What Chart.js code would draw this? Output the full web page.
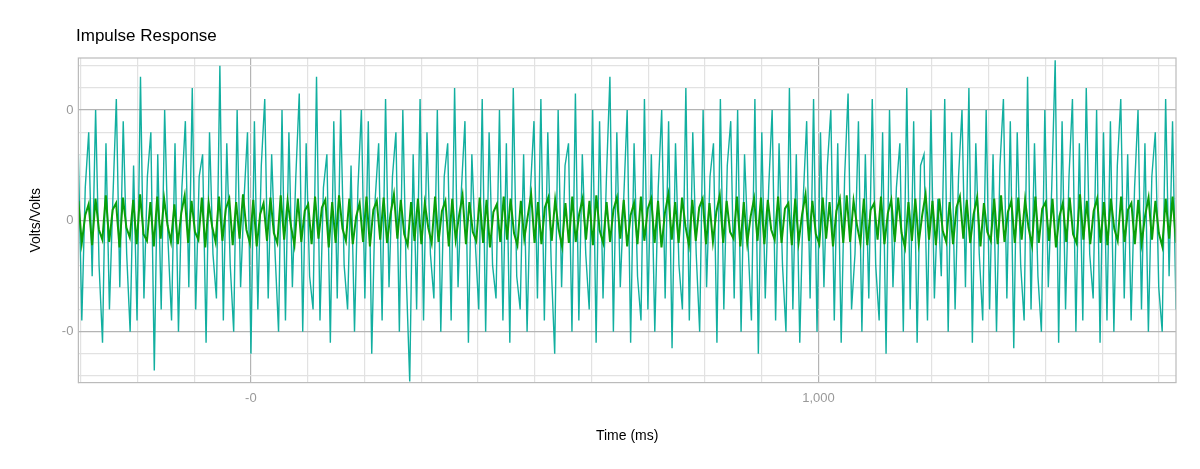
<!DOCTYPE html>
<html>
<head>
<meta charset="utf-8">
<script src="https://cdn.jsdelivr.net/npm/chart.js@4"></script>
<style>
  body { margin: 0; background: #fff; }
  #wrap { width: 1200px; height: 469px; position: relative; }
  #title { position: absolute; left: 76px; top: 26px; font: 17px Helvetica, Arial, sans-serif; color: #000; }
</style>
</head>
<body>
<div id="wrap"><div id="title">Impulse Response</div><canvas id="chart"></canvas></div>
<script>
// sample grid (ms)
const timeStart = -304;
const timeEnd = 1630;

// wide trace
const teal = [
  0.6, -0.9, 0.3, 0.8, -0.5, 1.0, -0.4, -1.1, 0.7, -0.8, 0.2, 1.1, -0.6, 0.9, -0.3, -1.0, 0.5, -0.9, 1.3, -0.7, 0.4, 0.8, -1.35, 0.6, -0.8,
  1.0, -0.2, -0.9, 0.7, -1.0, 0.3, 0.9, -0.6, 1.2, -0.8, 0.4, 0.6, -1.1, 0.8, -0.3, -0.7, 1.4, -0.9, 0.7, -0.4, -1.0, 1.0, -0.6, 0.2, 0.8, -1.2,
  0.9, -0.8, 0.5, 1.1, -0.7, 0.6, -0.3, -1.0, 1.0, -0.9, 0.8, -0.6, 0.4, 1.15, -1.0, 0.7, -0.5, -0.8, 1.3, -0.9, 0.3, 0.6, -1.1, 0.9, -0.7,
  1.0, -0.4, -0.8, 0.5, -1.0, 0.3, 1.0, -0.7, 0.9, -1.2, 0.2, 0.7, -0.9, 1.1, -0.6, 0.4, 0.8, -1.0, 1.0, -0.5, -1.45, 0.6, -0.8, 1.1, -0.9,
  0.8, -0.3, -0.7, 1.0, -1.0, 0.4, 0.7, -0.9, 1.2, -0.6, 0.3, 0.9, -1.1, 0.6, -0.2, -0.8, 1.1, -1.0, 0.8, -0.4, -0.7, 1.0, -0.9, 0.7, -1.1,
  1.2, -0.5, -0.8, 0.6, -1.0, 0.3, 0.9, -0.7, 1.1, -0.9, 0.8, -0.4, -1.2, 1.0, -0.6, 0.5, 0.7, -1.0, 1.15, -0.9, 0.6, -0.3, -0.8, 1.0, -1.1,
  0.9, -0.7, 0.4, 1.3, -1.0, 0.8, -0.6, 0.2, 1.0, -1.1, 0.7, -0.5, -0.9, 1.1, -0.8, 0.6, -1.0, 0.3, 1.0, -0.7, 0.9, -1.15, 0.7, -0.4, -0.8,
  1.2, -0.9, 0.8, -0.3, -1.0, 1.0, -0.6, 0.4, 0.7, -1.1, 1.1, -0.8, 0.5, 0.9, -0.7, 1.0, -1.0, 0.6, -0.2, -0.9, 1.1, -1.2, 0.8, -0.7, 0.3,
  1.0, -0.9, 0.7, -0.4, -1.0, 1.2, -0.8, 0.6, -1.1, 0.2, 0.9, -0.7, 1.1, -1.0, 0.8, -0.6, 0.5, 1.0, -0.9, 0.7, -1.1, 0.4, 1.15, -0.8, -0.3,
  0.9, -1.0, 0.6, -0.7, 1.1, -0.4, -0.9, 0.8, -1.2, 1.0, -0.6, 0.3, 0.7, -1.0, 1.2, -0.8, 0.9, -1.1, 0.5, 0.6, -0.9, 1.0, -0.7, 0.2, -0.5,
  1.1, -1.0, 0.8, -0.8, 0.4, 1.0, -0.6, 1.2, -1.1, 0.7, -0.3, -0.9, 1.0, -0.8, 0.6, -1.0, 0.5, 1.1, -0.7, 0.9, -1.15, 0.8, -0.4, -0.9,
  1.3, -0.8, 0.7, -0.5, -1.0, 1.0, -0.6, 0.3, 1.45, -1.1, 0.9, -0.8, 0.4, 1.1, -1.0, 0.7, -0.9, 1.2, -0.3, -0.7, 1.0, -1.1, 0.8, -0.9,
  0.9, -1.0, 0.5, 1.1, -0.7, 0.6, -0.9, 0.3, 1.0, -0.8, 0.7, -1.0, 0.4, 0.8, -0.6, -1.0, 1.1, -0.5, 0.9, -0.8
];

// narrow trace
const green = [
  0.18, -0.2, 0.05, 0.15, -0.22, 0.2, -0.08, -0.17, 0.23, -0.19, 0.1, 0.16, -0.24, 0.21, -0.06, -0.15, 0.19, -0.21, 0.24, -0.12, -0.18, 0.17, -0.23, 0.22, -0.16,
  0.2, -0.04, -0.19, 0.15, -0.21, 0.07, 0.23, -0.2, 0.18, -0.1, -0.17, 0.21, -0.24, 0.16, -0.05, -0.19, 0.22, -0.18, 0.11, 0.2, -0.22, 0.17, -0.16, 0.24, -0.08, -0.2,
  0.19, -0.23, 0.06, 0.16, -0.18, 0.21, -0.11, -0.2, 0.23, -0.17, 0.18, -0.05, -0.22, 0.2, -0.19, 0.09, 0.15, -0.21, 0.22, -0.16, 0.12, 0.19, -0.24, 0.17, -0.2,
  0.23, -0.07, -0.18, 0.2, -0.21, 0.04, 0.16, -0.19, 0.22, -0.23, 0.1, 0.18, -0.17, 0.21, -0.2, 0.06, 0.24, -0.16, 0.19, -0.12, -0.22, 0.17, -0.18, 0.2, -0.21,
  0.16, -0.06, -0.2, 0.22, -0.19, 0.09, 0.18, -0.23, 0.2, -0.17, 0.05, 0.23, -0.21, 0.17, -0.1, -0.18, 0.21, -0.2, 0.19, -0.24, 0.08, 0.15, -0.19, 0.22, -0.17,
  0.2, -0.11, -0.22, 0.18, -0.16, 0.04, 0.24, -0.2, 0.17, -0.21, 0.12, 0.21, -0.18, 0.19, -0.07, -0.23, 0.16, -0.2, 0.22, -0.19, 0.06, 0.2, -0.17, 0.18, -0.22,
  0.23, -0.09, -0.2, 0.17, -0.19, 0.1, 0.21, -0.16, 0.19, -0.23, 0.05, 0.16, -0.21, 0.22, -0.18, 0.11, 0.2, -0.2, 0.18, -0.24, 0.07, 0.24, -0.17, 0.17, -0.2,
  0.21, -0.05, -0.22, 0.19, -0.18, 0.12, 0.2, -0.21, 0.16, -0.19, 0.08, 0.23, -0.2, 0.18, -0.1, -0.16, 0.22, -0.23, 0.17, -0.2, 0.04, 0.2, -0.18, 0.21, -0.21,
  0.19, -0.08, -0.17, 0.22, -0.2, 0.11, 0.16, -0.22, 0.2, -0.19, 0.06, 0.24, -0.18, 0.18, -0.12, -0.21, 0.21, -0.16, 0.17, -0.23, 0.09, 0.2, -0.2, 0.23, -0.19,
  0.18, -0.04, -0.2, 0.2, -0.22, 0.1, 0.16, -0.17, 0.22, -0.21, 0.07, 0.19, -0.19, 0.21, -0.11, -0.24, 0.17, -0.18, 0.2, -0.2, 0.05, 0.24, -0.17, 0.18, -0.22,
  0.2, -0.09, -0.19, 0.17, -0.21, 0.12, 0.22, -0.16, 0.19, -0.2, 0.06, 0.21, -0.23, 0.16, -0.1, -0.18, 0.2, -0.21, 0.23, -0.19, 0.08, 0.18, -0.2, 0.21, -0.17,
  0.19, -0.06, -0.22, 0.22, -0.2, 0.11, 0.17, -0.18, 0.2, -0.24, 0.04, 0.16, -0.19, 0.21, -0.12, -0.2, 0.24, -0.17, 0.18, -0.21, 0.09, 0.2, -0.2, 0.17, -0.22,
  0.2, -0.07, -0.18, 0.22, -0.19, 0.1, 0.16, -0.21, 0.19, -0.2, 0.05, 0.21, -0.17, 0.18, -0.11, -0.23, 0.2, -0.16, 0.22, -0.2
];

const xTickLabels = { 0: "-0", 1000: "1,000" };
const yTickLabels = { 1: "0", 0: "0", "-1": "-0" };

const toPoints = (vals) => {
  const step = (timeEnd - timeStart) / (vals.length - 1);
  return vals.map((v, i) => ({ x: timeStart + i * step, y: v }));
};

// grey frame round the plot area
const frame = {
  id: "frame",
  afterDraw(chart) {
    const { ctx, chartArea: a } = chart;
    ctx.save();
    ctx.strokeStyle = "#bbb";
    ctx.lineWidth = 1.2;
    ctx.strokeRect(a.left, a.top, a.right - a.left, a.bottom - a.top);
    ctx.restore();
  }
};

new Chart(document.getElementById("chart"), {
  type: "line",
  data: {
    datasets: [
      { label: "green", data: toPoints(green), borderColor: "#0a9f0a", borderWidth: 2, pointRadius: 0, tension: 0 },
      { label: "teal", data: toPoints(teal), borderColor: "#12afa0", borderWidth: 1.4, pointRadius: 0, tension: 0 }
    ]
  },
  plugins: [frame],
  options: {
    responsive: true,
    maintainAspectRatio: false,
    animation: false,
    layout: { padding: { left: 24, right: 24, top: 58, bottom: 20 } },
    plugins: {
      legend: { display: false },
      tooltip: { enabled: false }
    },
    scales: {
      x: {
        type: "linear", min: timeStart, max: timeEnd,
        border: { color: "#bbb" },
        grid: {
          color: (c) => (c.tick && (c.tick.value === 0 || c.tick.value === 1000) ? "#b4b4b4" : "#e2e2e2"),
          lineWidth: 1.2, drawTicks: false
        },
        afterBuildTicks: (axis) => {
          const t = [];
          for (let k = -3; k <= 16; k++) t.push({ value: k * 100 });
          axis.ticks = t;
        },
        ticks: {
          autoSkip: false, maxRotation: 0, color: "#999", padding: 8,
          font: { family: "Helvetica, Arial, sans-serif", size: 13 },
          callback: (v) => xTickLabels[v] ?? ""
        },
        title: {
          display: true, text: "Time (ms)", color: "#000", padding: { top: 14 },
          font: { family: "Helvetica, Arial, sans-serif", size: 14 }
        }
      },
      y: {
        min: -1.46, max: 1.47,
        border: { color: "#bbb" },
        grid: {
          color: (c) => (c.tick && Math.abs(c.tick.value - Math.round(c.tick.value)) < 1e-6 ? "#b4b4b4" : "#e2e2e2"),
          lineWidth: 1.2, drawTicks: false
        },
        afterBuildTicks: (axis) => {
          const t = [];
          for (let k = -14; k <= 14; k++) t.push({ value: k / 10 });
          axis.ticks = t;
        },
        ticks: {
          color: "#999", padding: 5,
          font: { family: "Helvetica, Arial, sans-serif", size: 13 },
          callback: (v) => yTickLabels[String(Math.round(v * 10) / 10)] ?? ""
        },
        title: {
          display: true, text: "Volts/Volts", color: "#000", padding: { bottom: 12 },
          font: { family: "Helvetica, Arial, sans-serif", size: 14 }
        }
      }
    }
  }
});
</script>
</body>
</html>
